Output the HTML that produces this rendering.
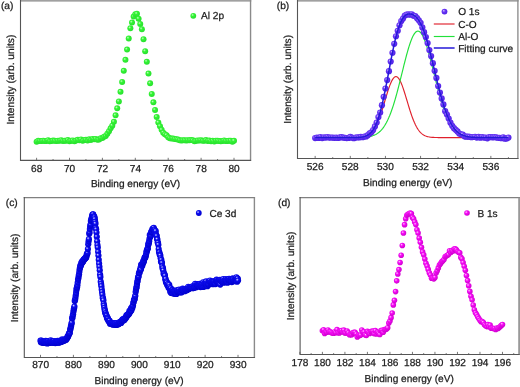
<!DOCTYPE html>
<html lang="en"><head><meta charset="utf-8"><title>XPS spectra</title>
<style>
html,body{margin:0;padding:0;background:#fff;}
body{width:520px;height:387px;overflow:hidden;}
svg{display:block;}
svg text{font-family:"Liberation Sans", Arial, sans-serif;fill:#1c1c1c;stroke:#1c1c1c;stroke-width:0.25px;text-rendering:geometricPrecision;}
</style></head><body>
<svg width="520" height="387" viewBox="0 0 520 387">
<rect width="520" height="387" fill="#fff"/>
<defs><radialGradient id="gG" cx="0.42" cy="0.40" r="0.62" fx="0.36" fy="0.34"><stop offset="0" stop-color="#c0ffc0"/><stop offset="0.38" stop-color="#34f434"/><stop offset="1" stop-color="#26de2e"/></radialGradient><radialGradient id="gP" cx="0.42" cy="0.40" r="0.62" fx="0.36" fy="0.34"><stop offset="0" stop-color="#d4c4ff"/><stop offset="0.38" stop-color="#6c38f6"/><stop offset="1" stop-color="#4c1ee4"/></radialGradient><radialGradient id="gB" cx="0.42" cy="0.40" r="0.62" fx="0.36" fy="0.34"><stop offset="0" stop-color="#d0d0ff"/><stop offset="0.38" stop-color="#0c0cf0"/><stop offset="1" stop-color="#0000cc"/></radialGradient><radialGradient id="gM" cx="0.42" cy="0.40" r="0.62" fx="0.36" fy="0.34"><stop offset="0" stop-color="#ffc4ff"/><stop offset="0.38" stop-color="#f60cf6"/><stop offset="1" stop-color="#cc00cc"/></radialGradient></defs>
<g fill="url(#gG)"><circle cx="36.6" cy="141.67" r="3.0"/><circle cx="38.24" cy="140.8" r="3.0"/><circle cx="39.89" cy="140.98" r="3.0"/><circle cx="41.53" cy="141.12" r="3.0"/><circle cx="43.18" cy="140.63" r="3.0"/><circle cx="44.82" cy="140.94" r="3.0"/><circle cx="46.47" cy="140.92" r="3.0"/><circle cx="48.11" cy="140.21" r="3.0"/><circle cx="49.76" cy="141.3" r="3.0"/><circle cx="51.4" cy="141.12" r="3.0"/><circle cx="53.05" cy="140.61" r="3.0"/><circle cx="54.69" cy="140.77" r="3.0"/><circle cx="56.34" cy="141.03" r="3.0"/><circle cx="57.98" cy="140.7" r="3.0"/><circle cx="59.63" cy="140.69" r="3.0"/><circle cx="61.27" cy="140.18" r="3.0"/><circle cx="62.92" cy="140.96" r="3.0"/><circle cx="64.56" cy="140.76" r="3.0"/><circle cx="66.21" cy="140.8" r="3.0"/><circle cx="67.85" cy="140.05" r="3.0"/><circle cx="69.5" cy="141.29" r="3.0"/><circle cx="71.14" cy="140.65" r="3.0"/><circle cx="72.79" cy="140.4" r="3.0"/><circle cx="74.43" cy="141.33" r="3.0"/><circle cx="76.08" cy="140.46" r="3.0"/><circle cx="77.72" cy="139.85" r="3.0"/><circle cx="79.37" cy="140.22" r="3.0"/><circle cx="81.01" cy="139.41" r="3.0"/><circle cx="82.66" cy="140.69" r="3.0"/><circle cx="84.3" cy="140.04" r="3.0"/><circle cx="85.95" cy="139.84" r="3.0"/><circle cx="87.59" cy="140.49" r="3.0"/><circle cx="89.24" cy="139.31" r="3.0"/><circle cx="90.88" cy="140.08" r="3.0"/><circle cx="92.53" cy="138.91" r="3.0"/><circle cx="94.17" cy="139.32" r="3.0"/><circle cx="95.82" cy="138.91" r="3.0"/><circle cx="97.46" cy="139.72" r="3.0"/><circle cx="99.11" cy="139.51" r="3.0"/><circle cx="100.75" cy="138.21" r="3.0"/><circle cx="102.4" cy="138.05" r="3.0"/><circle cx="104.04" cy="136.77" r="3.0"/><circle cx="105.69" cy="135.88" r="3.0"/><circle cx="107.33" cy="133.75" r="3.0"/><circle cx="108.98" cy="131.23" r="3.0"/><circle cx="110.62" cy="128.36" r="3.0"/><circle cx="112.27" cy="125.64" r="3.0"/><circle cx="113.91" cy="121.77" r="3.0"/><circle cx="115.56" cy="115.36" r="3.0"/><circle cx="117.2" cy="108.27" r="3.0"/><circle cx="118.85" cy="101.44" r="3.0"/><circle cx="120.49" cy="91.73" r="3.0"/><circle cx="122.14" cy="82.02" r="3.0"/><circle cx="123.78" cy="70.75" r="3.0"/><circle cx="125.43" cy="59.87" r="3.0"/><circle cx="127.07" cy="49.53" r="3.0"/><circle cx="128.72" cy="38.49" r="3.0"/><circle cx="130.36" cy="28.29" r="3.0"/><circle cx="132.01" cy="22.49" r="3.0"/><circle cx="133.65" cy="16.46" r="3.0"/><circle cx="135.3" cy="14.25" r="3.0"/><circle cx="136.94" cy="13.82" r="3.0"/><circle cx="138.59" cy="18.74" r="3.0"/><circle cx="140.23" cy="23.96" r="3.0"/><circle cx="141.88" cy="29.21" r="3.0"/><circle cx="143.52" cy="39.18" r="3.0"/><circle cx="145.17" cy="51.17" r="3.0"/><circle cx="146.81" cy="61.66" r="3.0"/><circle cx="148.46" cy="73.52" r="3.0"/><circle cx="150.1" cy="83.36" r="3.0"/><circle cx="151.75" cy="93.99" r="3.0"/><circle cx="153.39" cy="102.34" r="3.0"/><circle cx="155.04" cy="109.97" r="3.0"/><circle cx="156.68" cy="116.98" r="3.0"/><circle cx="158.33" cy="122.57" r="3.0"/><circle cx="159.97" cy="126.15" r="3.0"/><circle cx="161.62" cy="129.85" r="3.0"/><circle cx="163.26" cy="132.68" r="3.0"/><circle cx="164.91" cy="134.33" r="3.0"/><circle cx="166.55" cy="135.21" r="3.0"/><circle cx="168.2" cy="137.3" r="3.0"/><circle cx="169.84" cy="138.21" r="3.0"/><circle cx="171.49" cy="138.61" r="3.0"/><circle cx="173.13" cy="138.51" r="3.0"/><circle cx="174.78" cy="139.12" r="3.0"/><circle cx="176.42" cy="139.2" r="3.0"/><circle cx="178.07" cy="139.5" r="3.0"/><circle cx="179.71" cy="140.29" r="3.0"/><circle cx="181.36" cy="140.5" r="3.0"/><circle cx="183" cy="140.26" r="3.0"/><circle cx="184.65" cy="140.3" r="3.0"/><circle cx="186.29" cy="140.42" r="3.0"/><circle cx="187.94" cy="140.22" r="3.0"/><circle cx="189.58" cy="140.25" r="3.0"/><circle cx="191.23" cy="140.07" r="3.0"/><circle cx="192.87" cy="140.37" r="3.0"/><circle cx="194.52" cy="141.35" r="3.0"/><circle cx="196.16" cy="140.83" r="3.0"/><circle cx="197.81" cy="140.39" r="3.0"/><circle cx="199.45" cy="140.38" r="3.0"/><circle cx="201.1" cy="140.25" r="3.0"/><circle cx="202.74" cy="140.78" r="3.0"/><circle cx="204.39" cy="140.82" r="3.0"/><circle cx="206.03" cy="140.11" r="3.0"/><circle cx="207.68" cy="140.91" r="3.0"/><circle cx="209.32" cy="140.52" r="3.0"/><circle cx="210.97" cy="141.34" r="3.0"/><circle cx="212.61" cy="140.85" r="3.0"/><circle cx="214.26" cy="141.5" r="3.0"/><circle cx="215.9" cy="140.65" r="3.0"/><circle cx="217.55" cy="140.73" r="3.0"/><circle cx="219.19" cy="140.98" r="3.0"/><circle cx="220.84" cy="141.3" r="3.0"/><circle cx="222.48" cy="141.12" r="3.0"/><circle cx="224.13" cy="140.42" r="3.0"/><circle cx="225.77" cy="141" r="3.0"/><circle cx="227.42" cy="140.95" r="3.0"/><circle cx="229.06" cy="140.78" r="3.0"/><circle cx="230.71" cy="140.7" r="3.0"/><circle cx="232.35" cy="141.67" r="3.0"/><circle cx="234" cy="140.83" r="3.0"/></g>
<rect x="20" y="0" width="231.25" height="1.65" fill="#a0a0a0"/>
<path d="M250.55 0V160.9" fill="none" stroke="#8a8a8a" stroke-width="1.4"/>
<path d="M20.5 0V160.4H250.55" fill="none" stroke="#555555" stroke-width="1.1" stroke-linecap="square"/>
<path d="M36.6 160.4v-2.6M69.5 160.4v-2.6M102.4 160.4v-2.6M135.3 160.4v-2.6M168.2 160.4v-2.6M201.1 160.4v-2.6M234 160.4v-2.6M53.05 160.4v-1.4M85.95 160.4v-1.4M118.85 160.4v-1.4M151.75 160.4v-1.4M184.65 160.4v-1.4M217.55 160.4v-1.4" fill="none" stroke="#555555" stroke-width="0.8"/>
<text x="36.7" y="171.9" text-anchor="middle" font-size="10.1">68</text>
<text x="69.6" y="171.9" text-anchor="middle" font-size="10.1">70</text>
<text x="102.5" y="171.9" text-anchor="middle" font-size="10.1">72</text>
<text x="135.4" y="171.9" text-anchor="middle" font-size="10.1">74</text>
<text x="168.3" y="171.9" text-anchor="middle" font-size="10.1">76</text>
<text x="201.2" y="171.9" text-anchor="middle" font-size="10.1">78</text>
<text x="234.1" y="171.9" text-anchor="middle" font-size="10.1">80</text>
<text x="135.5" y="187.3" text-anchor="middle" font-size="10.1">Binding energy (eV)</text>
<text x="14" y="79.6" text-anchor="middle" font-size="10.25" transform="rotate(-90 14 79.6)">Intensity (arb. units)</text>
<text x="0.9" y="9" text-anchor="start" font-size="10.2">(a)</text>
<g fill="url(#gG)"><circle cx="193.3" cy="15.8" r="2.9"/></g>
<text x="201" y="19.3" text-anchor="start" font-size="10.1">Al 2p</text>
<path d="M315.15 137.6L316.03 137.6L316.91 137.6L317.79 137.6L318.66 137.6L319.54 137.6L320.42 137.6L321.3 137.6L322.18 137.6L323.06 137.6L323.93 137.6L324.81 137.6L325.69 137.6L326.57 137.6L327.45 137.6L328.33 137.6L329.21 137.6L330.08 137.6L330.96 137.6L331.84 137.6L332.72 137.6L333.6 137.6L334.48 137.6L335.36 137.6L336.23 137.6L337.11 137.6L337.99 137.6L338.87 137.6L339.75 137.6L340.63 137.6L341.5 137.6L342.38 137.6L343.26 137.6L344.14 137.6L345.02 137.6L345.9 137.6L346.78 137.6L347.65 137.6L348.53 137.59L349.41 137.59L350.29 137.59L351.17 137.58L352.05 137.58L352.93 137.57L353.8 137.56L354.68 137.55L355.56 137.53L356.44 137.5L357.32 137.47L358.2 137.43L359.07 137.38L359.95 137.31L360.83 137.22L361.71 137.12L362.59 136.98L363.47 136.81L364.35 136.61L365.22 136.36L366.1 136.05L366.98 135.69L367.86 135.25L368.74 134.73L369.62 134.11L370.5 133.39L371.37 132.56L372.25 131.59L373.13 130.49L374.01 129.24L374.89 127.83L375.77 126.25L376.64 124.51L377.52 122.59L378.4 120.5L379.28 118.24L380.16 115.83L381.04 113.26L381.92 110.57L382.79 107.77L383.67 104.89L384.55 101.96L385.43 99.01L386.31 96.08L387.19 93.21L388.07 90.45L388.94 87.83L389.82 85.4L390.7 83.2L391.58 81.26L392.46 79.63L393.34 78.32L394.21 77.37L395.09 76.79L395.97 76.6L396.85 76.79L397.73 77.37L398.61 78.32L399.49 79.63L400.36 81.26L401.24 83.2L402.12 85.4L403 87.83L403.88 90.45L404.76 93.21L405.64 96.08L406.51 99.01L407.39 101.96L408.27 104.89L409.15 107.77L410.03 110.57L410.91 113.26L411.78 115.83L412.66 118.24L413.54 120.5L414.42 122.59L415.3 124.51L416.18 126.25L417.06 127.83L417.93 129.24L418.81 130.49L419.69 131.59L420.57 132.56L421.45 133.39L422.33 134.11L423.21 134.73L424.08 135.25L424.96 135.69L425.84 136.05L426.72 136.36L427.6 136.61L428.48 136.81L429.35 136.98L430.23 137.12L431.11 137.22L431.99 137.31L432.87 137.38L433.75 137.43L434.63 137.47L435.5 137.5L436.38 137.53L437.26 137.55L438.14 137.56L439.02 137.57L439.9 137.58L440.78 137.58L441.65 137.59L442.53 137.59L443.41 137.59L444.29 137.6L445.17 137.6L446.05 137.6L446.92 137.6L447.8 137.6L448.68 137.6L449.56 137.6L450.44 137.6L451.32 137.6L452.2 137.6L453.07 137.6L453.95 137.6L454.83 137.6L455.71 137.6L456.59 137.6L457.47 137.6L458.35 137.6L459.22 137.6L460.1 137.6L460.98 137.6L461.86 137.6L462.74 137.6L463.62 137.6L464.49 137.6L465.37 137.6L466.25 137.6L467.13 137.6L468.01 137.6L468.89 137.6L469.77 137.6L470.64 137.6L471.52 137.6L472.4 137.6L473.28 137.6L474.16 137.6L475.04 137.6L475.92 137.6L476.79 137.6L477.67 137.6L478.55 137.6L479.43 137.6L480.31 137.6L481.19 137.6L482.06 137.6L482.94 137.6L483.82 137.6L484.7 137.6L485.58 137.6L486.46 137.6L487.34 137.6L488.21 137.6L489.09 137.6L489.97 137.6L490.85 137.6L491.73 137.6L492.61 137.6L493.49 137.6L494.36 137.6L495.24 137.6L496.12 137.6L497 137.6L497.88 137.6L498.76 137.6L499.63 137.6L500.51 137.6L501.39 137.6L502.27 137.6L503.15 137.6L504.03 137.6L504.91 137.6L505.78 137.6L506.66 137.6L507.54 137.6L508.42 137.6" fill="none" stroke="#e0202c" stroke-width="1.15" stroke-linejoin="round"/>
<path d="M315.15 137.6L316.03 137.6L316.91 137.6L317.79 137.6L318.66 137.6L319.54 137.6L320.42 137.6L321.3 137.6L322.18 137.6L323.06 137.6L323.93 137.6L324.81 137.6L325.69 137.6L326.57 137.6L327.45 137.6L328.33 137.6L329.21 137.6L330.08 137.6L330.96 137.6L331.84 137.6L332.72 137.6L333.6 137.6L334.48 137.6L335.36 137.6L336.23 137.6L337.11 137.6L337.99 137.6L338.87 137.6L339.75 137.6L340.63 137.6L341.5 137.6L342.38 137.6L343.26 137.6L344.14 137.6L345.02 137.6L345.9 137.6L346.78 137.6L347.65 137.59L348.53 137.59L349.41 137.59L350.29 137.59L351.17 137.58L352.05 137.58L352.93 137.57L353.8 137.57L354.68 137.56L355.56 137.55L356.44 137.54L357.32 137.52L358.2 137.51L359.07 137.49L359.95 137.46L360.83 137.43L361.71 137.39L362.59 137.35L363.47 137.29L364.35 137.23L365.22 137.16L366.1 137.07L366.98 136.97L367.86 136.84L368.74 136.7L369.62 136.54L370.5 136.34L371.37 136.12L372.25 135.87L373.13 135.57L374.01 135.23L374.89 134.85L375.77 134.41L376.64 133.92L377.52 133.35L378.4 132.72L379.28 132.02L380.16 131.22L381.04 130.34L381.92 129.37L382.79 128.29L383.67 127.09L384.55 125.79L385.43 124.36L386.31 122.8L387.19 121.11L388.07 119.28L388.94 117.32L389.82 115.21L390.7 112.95L391.58 110.55L392.46 108.01L393.34 105.33L394.21 102.51L395.09 99.56L395.97 96.49L396.85 93.3L397.73 90.01L398.61 86.64L399.49 83.19L400.36 79.68L401.24 76.14L402.12 72.58L403 69.02L403.88 65.48L404.76 62L405.64 58.58L406.51 55.27L407.39 52.07L408.27 49.02L409.15 46.14L410.03 43.46L410.91 40.99L411.78 38.76L412.66 36.78L413.54 35.08L414.42 33.66L415.3 32.55L416.18 31.75L417.06 31.26L417.93 31.1L418.81 31.26L419.69 31.75L420.57 32.55L421.45 33.66L422.33 35.08L423.21 36.78L424.08 38.76L424.96 40.99L425.84 43.46L426.72 46.14L427.6 49.02L428.48 52.07L429.35 55.27L430.23 58.58L431.11 62L431.99 65.48L432.87 69.02L433.75 72.58L434.63 76.14L435.5 79.68L436.38 83.19L437.26 86.64L438.14 90.01L439.02 93.3L439.9 96.49L440.78 99.56L441.65 102.51L442.53 105.33L443.41 108.01L444.29 110.55L445.17 112.95L446.05 115.21L446.92 117.32L447.8 119.28L448.68 121.11L449.56 122.8L450.44 124.36L451.32 125.79L452.2 127.09L453.07 128.29L453.95 129.37L454.83 130.34L455.71 131.22L456.59 132.02L457.47 132.72L458.35 133.35L459.22 133.92L460.1 134.41L460.98 134.85L461.86 135.23L462.74 135.57L463.62 135.87L464.49 136.12L465.37 136.34L466.25 136.54L467.13 136.7L468.01 136.84L468.89 136.97L469.77 137.07L470.64 137.16L471.52 137.23L472.4 137.29L473.28 137.35L474.16 137.39L475.04 137.43L475.92 137.46L476.79 137.49L477.67 137.51L478.55 137.52L479.43 137.54L480.31 137.55L481.19 137.56L482.06 137.57L482.94 137.57L483.82 137.58L484.7 137.58L485.58 137.59L486.46 137.59L487.34 137.59L488.21 137.59L489.09 137.6L489.97 137.6L490.85 137.6L491.73 137.6L492.61 137.6L493.49 137.6L494.36 137.6L495.24 137.6L496.12 137.6L497 137.6L497.88 137.6L498.76 137.6L499.63 137.6L500.51 137.6L501.39 137.6L502.27 137.6L503.15 137.6L504.03 137.6L504.91 137.6L505.78 137.6L506.66 137.6L507.54 137.6L508.42 137.6" fill="none" stroke="#22e03a" stroke-width="1.15" stroke-linejoin="round"/>
<g fill="url(#gP)"><circle cx="315.15" cy="138.11" r="3.1"/><circle cx="316.91" cy="137.61" r="3.1"/><circle cx="318.66" cy="137.89" r="3.1"/><circle cx="320.42" cy="137.13" r="3.1"/><circle cx="322.18" cy="138.12" r="3.1"/><circle cx="323.94" cy="137.36" r="3.1"/><circle cx="325.69" cy="137.56" r="3.1"/><circle cx="327.45" cy="137.04" r="3.1"/><circle cx="329.21" cy="137.53" r="3.1"/><circle cx="330.96" cy="137.51" r="3.1"/><circle cx="332.72" cy="137.53" r="3.1"/><circle cx="334.48" cy="137.78" r="3.1"/><circle cx="336.23" cy="137.62" r="3.1"/><circle cx="337.99" cy="137.99" r="3.1"/><circle cx="339.75" cy="137.41" r="3.1"/><circle cx="341.51" cy="137.2" r="3.1"/><circle cx="343.26" cy="137.59" r="3.1"/><circle cx="345.02" cy="137.85" r="3.1"/><circle cx="346.78" cy="138.09" r="3.1"/><circle cx="348.53" cy="137.92" r="3.1"/><circle cx="350.29" cy="136.88" r="3.1"/><circle cx="352.05" cy="137.72" r="3.1"/><circle cx="353.8" cy="138.13" r="3.1"/><circle cx="355.56" cy="137.53" r="3.1"/><circle cx="357.32" cy="137.23" r="3.1"/><circle cx="359.08" cy="137.45" r="3.1"/><circle cx="360.83" cy="136.96" r="3.1"/><circle cx="362.59" cy="137.15" r="3.1"/><circle cx="364.35" cy="136.48" r="3.1"/><circle cx="366.1" cy="136.44" r="3.1"/><circle cx="367.86" cy="135.2" r="3.1"/><circle cx="369.62" cy="133.46" r="3.1"/><circle cx="371.37" cy="132.27" r="3.1"/><circle cx="373.13" cy="130.08" r="3.1"/><circle cx="374.89" cy="126.43" r="3.1"/><circle cx="376.65" cy="122.6" r="3.1"/><circle cx="378.4" cy="117.04" r="3.1"/><circle cx="380.16" cy="112.52" r="3.1"/><circle cx="381.92" cy="105.14" r="3.1"/><circle cx="383.67" cy="96.83" r="3.1"/><circle cx="385.43" cy="88.49" r="3.1"/><circle cx="387.19" cy="80.07" r="3.1"/><circle cx="388.94" cy="71.13" r="3.1"/><circle cx="390.7" cy="61.48" r="3.1"/><circle cx="392.46" cy="52.73" r="3.1"/><circle cx="394.22" cy="43.78" r="3.1"/><circle cx="395.97" cy="36.24" r="3.1"/><circle cx="397.73" cy="30.75" r="3.1"/><circle cx="399.49" cy="25.35" r="3.1"/><circle cx="401.24" cy="21.05" r="3.1"/><circle cx="403" cy="18.55" r="3.1"/><circle cx="404.76" cy="15.57" r="3.1"/><circle cx="406.51" cy="14.49" r="3.1"/><circle cx="408.27" cy="14.42" r="3.1"/><circle cx="410.03" cy="14.62" r="3.1"/><circle cx="411.79" cy="14.24" r="3.1"/><circle cx="413.54" cy="15.69" r="3.1"/><circle cx="415.3" cy="16.03" r="3.1"/><circle cx="417.06" cy="18.19" r="3.1"/><circle cx="418.81" cy="20.37" r="3.1"/><circle cx="420.57" cy="22.87" r="3.1"/><circle cx="422.33" cy="27.4" r="3.1"/><circle cx="424.08" cy="32.21" r="3.1"/><circle cx="425.84" cy="37.05" r="3.1"/><circle cx="427.6" cy="43.02" r="3.1"/><circle cx="429.36" cy="50.12" r="3.1"/><circle cx="431.11" cy="56.01" r="3.1"/><circle cx="432.87" cy="63.14" r="3.1"/><circle cx="434.63" cy="70.84" r="3.1"/><circle cx="436.38" cy="77.95" r="3.1"/><circle cx="438.14" cy="86.1" r="3.1"/><circle cx="439.9" cy="92.51" r="3.1"/><circle cx="441.65" cy="98.43" r="3.1"/><circle cx="443.41" cy="104.43" r="3.1"/><circle cx="445.17" cy="111.15" r="3.1"/><circle cx="446.93" cy="114.51" r="3.1"/><circle cx="448.68" cy="118.61" r="3.1"/><circle cx="450.44" cy="122.63" r="3.1"/><circle cx="452.2" cy="125.81" r="3.1"/><circle cx="453.95" cy="128.19" r="3.1"/><circle cx="455.71" cy="129.84" r="3.1"/><circle cx="457.47" cy="131.44" r="3.1"/><circle cx="459.22" cy="133.51" r="3.1"/><circle cx="460.98" cy="134.33" r="3.1"/><circle cx="462.74" cy="134.53" r="3.1"/><circle cx="464.5" cy="136.3" r="3.1"/><circle cx="466.25" cy="136.63" r="3.1"/><circle cx="468.01" cy="136.59" r="3.1"/><circle cx="469.77" cy="136.85" r="3.1"/><circle cx="471.52" cy="137.24" r="3.1"/><circle cx="473.28" cy="137.01" r="3.1"/><circle cx="475.04" cy="136.85" r="3.1"/><circle cx="476.79" cy="137.59" r="3.1"/><circle cx="478.55" cy="136.93" r="3.1"/><circle cx="480.31" cy="137.69" r="3.1"/><circle cx="482.07" cy="136.98" r="3.1"/><circle cx="483.82" cy="137.53" r="3.1"/><circle cx="485.58" cy="137.53" r="3.1"/><circle cx="487.34" cy="138.3" r="3.1"/><circle cx="489.09" cy="137.17" r="3.1"/><circle cx="490.85" cy="137.03" r="3.1"/><circle cx="492.61" cy="137.34" r="3.1"/><circle cx="494.36" cy="137.15" r="3.1"/><circle cx="496.12" cy="137.36" r="3.1"/><circle cx="497.88" cy="137.77" r="3.1"/><circle cx="499.64" cy="137.91" r="3.1"/><circle cx="501.39" cy="138.26" r="3.1"/><circle cx="503.15" cy="137.31" r="3.1"/><circle cx="504.91" cy="138.66" r="3.1"/><circle cx="506.66" cy="138.39" r="3.1"/><circle cx="508.42" cy="137.52" r="3.1"/></g>
<path d="M315.15 137.6L316.03 137.6L316.91 137.6L317.79 137.6L318.66 137.6L319.54 137.6L320.42 137.6L321.3 137.6L322.18 137.6L323.06 137.6L323.93 137.6L324.81 137.6L325.69 137.6L326.57 137.6L327.45 137.6L328.33 137.6L329.21 137.6L330.08 137.6L330.96 137.6L331.84 137.6L332.72 137.6L333.6 137.6L334.48 137.6L335.36 137.6L336.23 137.6L337.11 137.6L337.99 137.6L338.87 137.6L339.75 137.6L340.63 137.6L341.5 137.6L342.38 137.6L343.26 137.6L344.14 137.6L345.02 137.6L345.9 137.6L346.78 137.59L347.65 137.59L348.53 137.59L349.41 137.59L350.29 137.58L351.17 137.58L352.05 137.57L352.93 137.56L353.8 137.54L354.68 137.53L355.56 137.5L356.44 137.48L357.32 137.44L358.2 137.39L359.07 137.33L359.95 137.26L360.83 137.16L361.71 137.04L362.59 136.89L363.47 136.71L364.35 136.49L365.22 136.21L366.1 135.88L366.98 135.48L367.86 135L368.74 134.43L369.62 133.75L370.5 132.96L371.37 132.03L372.25 130.95L373.13 129.7L374.01 128.28L374.89 126.66L375.77 124.83L376.64 122.77L377.52 120.49L378.4 117.96L379.28 115.19L380.16 112.16L381.04 108.89L381.92 105.38L382.79 101.63L383.67 97.67L384.55 93.52L385.43 89.2L386.31 84.73L387.19 80.16L388.07 75.51L388.94 70.83L389.82 66.15L390.7 61.52L391.58 56.97L392.46 52.55L393.34 48.28L394.21 44.22L395.09 40.37L395.97 36.77L396.85 33.44L397.73 30.39L398.61 27.63L399.49 25.15L400.36 22.97L401.24 21.06L402.12 19.42L403 18.03L403.88 16.88L404.76 15.95L405.64 15.21L406.51 14.65L407.39 14.26L408.27 14.01L409.15 13.89L410.03 13.89L410.91 14.01L411.78 14.23L412.66 14.57L413.54 15.02L414.42 15.59L415.3 16.28L416.18 17.1L417.06 18.06L417.93 19.17L418.81 20.44L419.69 21.88L420.57 23.5L421.45 25.3L422.33 27.29L423.21 29.47L424.08 31.83L424.96 34.38L425.84 37.11L426.72 40L427.6 43.05L428.48 46.24L429.35 49.56L430.23 52.99L431.11 56.51L431.99 60.1L432.87 63.74L433.75 67.42L434.63 71.1L435.5 74.78L436.38 78.43L437.26 82.03L438.14 85.56L439.02 89.02L439.9 92.38L440.78 95.64L441.65 98.78L442.53 101.79L443.41 104.67L444.29 107.41L445.17 110.01L446.05 112.46L446.92 114.76L447.8 116.91L448.68 118.92L449.56 120.78L450.44 122.5L451.32 124.09L452.2 125.55L453.07 126.88L453.95 128.1L454.83 129.2L455.71 130.2L456.59 131.1L457.47 131.9L458.35 132.63L459.22 133.27L460.1 133.84L460.98 134.35L461.86 134.79L462.74 135.19L463.62 135.53L464.49 135.83L465.37 136.09L466.25 136.32L467.13 136.52L468.01 136.68L468.89 136.83L469.77 136.95L470.64 137.06L471.52 137.15L472.4 137.22L473.28 137.29L474.16 137.34L475.04 137.39L475.92 137.43L476.79 137.46L477.67 137.48L478.55 137.5L479.43 137.52L480.31 137.54L481.19 137.55L482.06 137.56L482.94 137.57L483.82 137.57L484.7 137.58L485.58 137.58L486.46 137.59L487.34 137.59L488.21 137.59L489.09 137.59L489.97 137.6L490.85 137.6L491.73 137.6L492.61 137.6L493.49 137.6L494.36 137.6L495.24 137.6L496.12 137.6L497 137.6L497.88 137.6L498.76 137.6L499.63 137.6L500.51 137.6L501.39 137.6L502.27 137.6L503.15 137.6L504.03 137.6L504.91 137.6L505.78 137.6L506.66 137.6L507.54 137.6L508.42 137.6" fill="none" stroke="#2418d8" stroke-width="1.5" stroke-linejoin="round"/>
<rect x="297" y="0" width="221.6" height="1.65" fill="#a0a0a0"/>
<path d="M517.9 0V159" fill="none" stroke="#8c8c8c" stroke-width="1.35"/>
<path d="M297.5 0V158.5H517.9" fill="none" stroke="#555555" stroke-width="1.1" stroke-linecap="square"/>
<path d="M315.15 158.5v-2.6M350.29 158.5v-2.6M385.43 158.5v-2.6M420.57 158.5v-2.6M455.71 158.5v-2.6M490.85 158.5v-2.6M332.72 158.5v-1.4M367.86 158.5v-1.4M403 158.5v-1.4M438.14 158.5v-1.4M473.28 158.5v-1.4M508.42 158.5v-1.4" fill="none" stroke="#555555" stroke-width="0.8"/>
<text x="315.15" y="169.7" text-anchor="middle" font-size="10.1">526</text>
<text x="350.29" y="169.7" text-anchor="middle" font-size="10.1">528</text>
<text x="385.43" y="169.7" text-anchor="middle" font-size="10.1">530</text>
<text x="420.57" y="169.7" text-anchor="middle" font-size="10.1">532</text>
<text x="455.71" y="169.7" text-anchor="middle" font-size="10.1">534</text>
<text x="490.85" y="169.7" text-anchor="middle" font-size="10.1">536</text>
<text x="407.7" y="185.8" text-anchor="middle" font-size="10.1">Binding energy (eV)</text>
<text x="291.3" y="79.3" text-anchor="middle" font-size="10.1" transform="rotate(-90 291.3 79.3)">Intensity (arb. units)</text>
<text x="276.8" y="9" text-anchor="start" font-size="10.2">(b)</text>
<g fill="url(#gP)"><circle cx="444.5" cy="11.6" r="2.9"/></g>
<text x="458.2" y="15.3" text-anchor="start" font-size="10.1">O 1s</text>
<path d="M433.8 24L454.6 24" fill="none" stroke="#e0202c" stroke-width="1.15" stroke-linejoin="round"/>
<text x="458.2" y="27.6" text-anchor="start" font-size="10.1">C-O</text>
<path d="M433.8 36.5L454.6 36.5" fill="none" stroke="#22e03a" stroke-width="1.15" stroke-linejoin="round"/>
<text x="458.2" y="40.1" text-anchor="start" font-size="10.1">Al-O</text>
<path d="M433.8 48L454.6 48" fill="none" stroke="#2418d8" stroke-width="1.5" stroke-linejoin="round"/>
<text x="458.2" y="51.6" text-anchor="start" font-size="10.1">Fitting curve</text>
<g fill="url(#gB)"><circle cx="40.5" cy="340.57" r="3.1"/><circle cx="40.83" cy="342.03" r="3.1"/><circle cx="41.16" cy="342.15" r="3.1"/><circle cx="41.49" cy="340.63" r="3.1"/><circle cx="41.82" cy="342.19" r="3.1"/><circle cx="42.15" cy="342.03" r="3.1"/><circle cx="42.48" cy="341.66" r="3.1"/><circle cx="42.8" cy="342.59" r="3.1"/><circle cx="43.13" cy="342.85" r="3.1"/><circle cx="43.46" cy="341.9" r="3.1"/><circle cx="43.79" cy="342.37" r="3.1"/><circle cx="44.12" cy="341.81" r="3.1"/><circle cx="44.45" cy="341.73" r="3.1"/><circle cx="44.78" cy="342.3" r="3.1"/><circle cx="45.11" cy="342.6" r="3.1"/><circle cx="45.44" cy="341.9" r="3.1"/><circle cx="45.77" cy="340.83" r="3.1"/><circle cx="46.1" cy="342.66" r="3.1"/><circle cx="46.43" cy="341.24" r="3.1"/><circle cx="46.75" cy="342.37" r="3.1"/><circle cx="47.08" cy="343.45" r="3.1"/><circle cx="47.41" cy="342.28" r="3.1"/><circle cx="47.74" cy="341.52" r="3.1"/><circle cx="48.07" cy="341.35" r="3.1"/><circle cx="48.4" cy="343.06" r="3.1"/><circle cx="48.73" cy="342.29" r="3.1"/><circle cx="49.06" cy="342.65" r="3.1"/><circle cx="49.39" cy="342.9" r="3.1"/><circle cx="49.72" cy="342.27" r="3.1"/><circle cx="50.05" cy="342.1" r="3.1"/><circle cx="50.38" cy="341.68" r="3.1"/><circle cx="50.71" cy="340.29" r="3.1"/><circle cx="51.03" cy="341.3" r="3.1"/><circle cx="51.36" cy="342.23" r="3.1"/><circle cx="51.69" cy="342.16" r="3.1"/><circle cx="52.02" cy="342.52" r="3.1"/><circle cx="52.35" cy="342.16" r="3.1"/><circle cx="52.68" cy="342.33" r="3.1"/><circle cx="53.01" cy="342.72" r="3.1"/><circle cx="53.34" cy="341.61" r="3.1"/><circle cx="53.67" cy="341.98" r="3.1"/><circle cx="54" cy="341.1" r="3.1"/><circle cx="54.33" cy="342.76" r="3.1"/><circle cx="54.66" cy="342.12" r="3.1"/><circle cx="54.98" cy="342.39" r="3.1"/><circle cx="55.31" cy="343.05" r="3.1"/><circle cx="55.64" cy="342.72" r="3.1"/><circle cx="55.97" cy="341.95" r="3.1"/><circle cx="56.3" cy="342.47" r="3.1"/><circle cx="56.63" cy="341" r="3.1"/><circle cx="56.96" cy="342.18" r="3.1"/><circle cx="57.29" cy="341.96" r="3.1"/><circle cx="57.62" cy="340.78" r="3.1"/><circle cx="57.95" cy="342.67" r="3.1"/><circle cx="58.28" cy="341.32" r="3.1"/><circle cx="58.61" cy="342.18" r="3.1"/><circle cx="58.94" cy="341.43" r="3.1"/><circle cx="59.26" cy="342.31" r="3.1"/><circle cx="59.59" cy="342.48" r="3.1"/><circle cx="59.92" cy="341.04" r="3.1"/><circle cx="60.25" cy="340.54" r="3.1"/><circle cx="60.58" cy="341.4" r="3.1"/><circle cx="60.91" cy="341.98" r="3.1"/><circle cx="61.24" cy="341.13" r="3.1"/><circle cx="61.57" cy="340.91" r="3.1"/><circle cx="61.9" cy="341.56" r="3.1"/><circle cx="62.23" cy="339.38" r="3.1"/><circle cx="62.56" cy="340.66" r="3.1"/><circle cx="62.89" cy="340.11" r="3.1"/><circle cx="63.21" cy="341.11" r="3.1"/><circle cx="63.54" cy="340.34" r="3.1"/><circle cx="63.87" cy="339.99" r="3.1"/><circle cx="64.2" cy="340.38" r="3.1"/><circle cx="64.53" cy="339.53" r="3.1"/><circle cx="64.86" cy="340.31" r="3.1"/><circle cx="65.19" cy="339.65" r="3.1"/><circle cx="65.52" cy="339.56" r="3.1"/><circle cx="65.85" cy="338.99" r="3.1"/><circle cx="66.18" cy="339.66" r="3.1"/><circle cx="66.51" cy="338.56" r="3.1"/><circle cx="66.84" cy="338.51" r="3.1"/><circle cx="67.17" cy="337.99" r="3.1"/><circle cx="67.49" cy="336.64" r="3.1"/><circle cx="67.82" cy="336.99" r="3.1"/><circle cx="68.15" cy="336.21" r="3.1"/><circle cx="68.48" cy="335.46" r="3.1"/><circle cx="68.81" cy="334.18" r="3.1"/><circle cx="69.14" cy="333.26" r="3.1"/><circle cx="69.47" cy="333.07" r="3.1"/><circle cx="69.8" cy="332.92" r="3.1"/><circle cx="70.13" cy="329.72" r="3.1"/><circle cx="70.46" cy="329.11" r="3.1"/><circle cx="70.79" cy="326.89" r="3.1"/><circle cx="71.12" cy="325.94" r="3.1"/><circle cx="71.44" cy="324.02" r="3.1"/><circle cx="71.77" cy="322.67" r="3.1"/><circle cx="72.1" cy="318.36" r="3.1"/><circle cx="72.43" cy="317.9" r="3.1"/><circle cx="72.76" cy="315.71" r="3.1"/><circle cx="73.09" cy="314.28" r="3.1"/><circle cx="73.42" cy="311.8" r="3.1"/><circle cx="73.75" cy="309.65" r="3.1"/><circle cx="74.08" cy="308.17" r="3.1"/><circle cx="74.41" cy="306.53" r="3.1"/><circle cx="74.74" cy="300.97" r="3.1"/><circle cx="75.07" cy="300.12" r="3.1"/><circle cx="75.4" cy="298.08" r="3.1"/><circle cx="75.72" cy="295.53" r="3.1"/><circle cx="76.05" cy="293.04" r="3.1"/><circle cx="76.38" cy="290.17" r="3.1"/><circle cx="76.71" cy="288.25" r="3.1"/><circle cx="77.04" cy="287.17" r="3.1"/><circle cx="77.37" cy="285.27" r="3.1"/><circle cx="77.7" cy="282.52" r="3.1"/><circle cx="78.03" cy="279.82" r="3.1"/><circle cx="78.36" cy="278.35" r="3.1"/><circle cx="78.69" cy="276.03" r="3.1"/><circle cx="79.02" cy="274.29" r="3.1"/><circle cx="79.35" cy="271.75" r="3.1"/><circle cx="79.67" cy="269.15" r="3.1"/><circle cx="80" cy="267.86" r="3.1"/><circle cx="80.33" cy="265.62" r="3.1"/><circle cx="80.66" cy="265.89" r="3.1"/><circle cx="80.99" cy="265.22" r="3.1"/><circle cx="81.32" cy="262.89" r="3.1"/><circle cx="81.65" cy="263.24" r="3.1"/><circle cx="81.98" cy="261.7" r="3.1"/><circle cx="82.31" cy="262.48" r="3.1"/><circle cx="82.64" cy="261.88" r="3.1"/><circle cx="82.97" cy="260.72" r="3.1"/><circle cx="83.3" cy="261.14" r="3.1"/><circle cx="83.63" cy="259.88" r="3.1"/><circle cx="83.95" cy="259.42" r="3.1"/><circle cx="84.28" cy="259.15" r="3.1"/><circle cx="84.61" cy="259.08" r="3.1"/><circle cx="84.94" cy="258.57" r="3.1"/><circle cx="85.27" cy="258.43" r="3.1"/><circle cx="85.6" cy="257.4" r="3.1"/><circle cx="85.93" cy="257.7" r="3.1"/><circle cx="86.26" cy="257.19" r="3.1"/><circle cx="86.59" cy="255.41" r="3.1"/><circle cx="86.92" cy="253.85" r="3.1"/><circle cx="87.25" cy="254.06" r="3.1"/><circle cx="87.58" cy="252.83" r="3.1"/><circle cx="87.9" cy="249.03" r="3.1"/><circle cx="88.23" cy="244.33" r="3.1"/><circle cx="88.56" cy="241.54" r="3.1"/><circle cx="88.89" cy="239.17" r="3.1"/><circle cx="89.22" cy="233.84" r="3.1"/><circle cx="89.55" cy="232.38" r="3.1"/><circle cx="89.88" cy="229.06" r="3.1"/><circle cx="90.21" cy="226.18" r="3.1"/><circle cx="90.54" cy="224.62" r="3.1"/><circle cx="90.87" cy="221.05" r="3.1"/><circle cx="91.2" cy="219.97" r="3.1"/><circle cx="91.53" cy="219.02" r="3.1"/><circle cx="91.86" cy="217.31" r="3.1"/><circle cx="92.18" cy="215.84" r="3.1"/><circle cx="92.51" cy="214.64" r="3.1"/><circle cx="92.84" cy="214.61" r="3.1"/><circle cx="93.17" cy="214.26" r="3.1"/><circle cx="93.5" cy="216.86" r="3.1"/><circle cx="93.83" cy="216.28" r="3.1"/><circle cx="94.16" cy="216.56" r="3.1"/><circle cx="94.49" cy="217.38" r="3.1"/><circle cx="94.82" cy="219.17" r="3.1"/><circle cx="95.15" cy="221.8" r="3.1"/><circle cx="95.48" cy="223.64" r="3.1"/><circle cx="95.81" cy="228.13" r="3.1"/><circle cx="96.13" cy="229.36" r="3.1"/><circle cx="96.46" cy="232.56" r="3.1"/><circle cx="96.79" cy="236.79" r="3.1"/><circle cx="97.12" cy="241.25" r="3.1"/><circle cx="97.45" cy="244.99" r="3.1"/><circle cx="97.78" cy="247.61" r="3.1"/><circle cx="98.11" cy="251.8" r="3.1"/><circle cx="98.44" cy="255.58" r="3.1"/><circle cx="98.77" cy="259.81" r="3.1"/><circle cx="99.1" cy="263.62" r="3.1"/><circle cx="99.43" cy="266.75" r="3.1"/><circle cx="99.76" cy="270.24" r="3.1"/><circle cx="100.09" cy="274.56" r="3.1"/><circle cx="100.41" cy="276.92" r="3.1"/><circle cx="100.74" cy="281.72" r="3.1"/><circle cx="101.07" cy="283.91" r="3.1"/><circle cx="101.4" cy="286.16" r="3.1"/><circle cx="101.73" cy="289.42" r="3.1"/><circle cx="102.06" cy="291.97" r="3.1"/><circle cx="102.39" cy="294.71" r="3.1"/><circle cx="102.72" cy="297.74" r="3.1"/><circle cx="103.05" cy="298.43" r="3.1"/><circle cx="103.38" cy="300.37" r="3.1"/><circle cx="103.71" cy="303.97" r="3.1"/><circle cx="104.04" cy="305.71" r="3.1"/><circle cx="104.36" cy="307.9" r="3.1"/><circle cx="104.69" cy="309.9" r="3.1"/><circle cx="105.02" cy="311.14" r="3.1"/><circle cx="105.35" cy="313.23" r="3.1"/><circle cx="105.68" cy="313.34" r="3.1"/><circle cx="106.01" cy="314.97" r="3.1"/><circle cx="106.34" cy="315.32" r="3.1"/><circle cx="106.67" cy="316" r="3.1"/><circle cx="107" cy="317.95" r="3.1"/><circle cx="107.33" cy="318.68" r="3.1"/><circle cx="107.66" cy="317.73" r="3.1"/><circle cx="107.99" cy="318.89" r="3.1"/><circle cx="108.32" cy="320.36" r="3.1"/><circle cx="108.64" cy="321.35" r="3.1"/><circle cx="108.97" cy="320.63" r="3.1"/><circle cx="109.3" cy="321.28" r="3.1"/><circle cx="109.63" cy="320.8" r="3.1"/><circle cx="109.96" cy="323.65" r="3.1"/><circle cx="110.29" cy="322.63" r="3.1"/><circle cx="110.62" cy="323.18" r="3.1"/><circle cx="110.95" cy="323.28" r="3.1"/><circle cx="111.28" cy="323.7" r="3.1"/><circle cx="111.61" cy="323.69" r="3.1"/><circle cx="111.94" cy="323.26" r="3.1"/><circle cx="112.27" cy="324.1" r="3.1"/><circle cx="112.59" cy="323.77" r="3.1"/><circle cx="112.92" cy="324.63" r="3.1"/><circle cx="113.25" cy="323.32" r="3.1"/><circle cx="113.58" cy="323.45" r="3.1"/><circle cx="113.91" cy="324.22" r="3.1"/><circle cx="114.24" cy="324.61" r="3.1"/><circle cx="114.57" cy="323.86" r="3.1"/><circle cx="114.9" cy="323.29" r="3.1"/><circle cx="115.23" cy="323.65" r="3.1"/><circle cx="115.56" cy="323.39" r="3.1"/><circle cx="115.89" cy="324.92" r="3.1"/><circle cx="116.22" cy="324.24" r="3.1"/><circle cx="116.55" cy="324.45" r="3.1"/><circle cx="116.87" cy="323.79" r="3.1"/><circle cx="117.2" cy="323.2" r="3.1"/><circle cx="117.53" cy="324.28" r="3.1"/><circle cx="117.86" cy="324.55" r="3.1"/><circle cx="118.19" cy="323.78" r="3.1"/><circle cx="118.52" cy="323.29" r="3.1"/><circle cx="118.85" cy="323.88" r="3.1"/><circle cx="119.18" cy="322.78" r="3.1"/><circle cx="119.51" cy="323.35" r="3.1"/><circle cx="119.84" cy="322.2" r="3.1"/><circle cx="120.17" cy="321.82" r="3.1"/><circle cx="120.5" cy="322.59" r="3.1"/><circle cx="120.82" cy="322.21" r="3.1"/><circle cx="121.15" cy="322.98" r="3.1"/><circle cx="121.48" cy="321.31" r="3.1"/><circle cx="121.81" cy="321.25" r="3.1"/><circle cx="122.14" cy="320.24" r="3.1"/><circle cx="122.47" cy="319.51" r="3.1"/><circle cx="122.8" cy="319.3" r="3.1"/><circle cx="123.13" cy="320.46" r="3.1"/><circle cx="123.46" cy="319.07" r="3.1"/><circle cx="123.79" cy="320.23" r="3.1"/><circle cx="124.12" cy="320.06" r="3.1"/><circle cx="124.45" cy="318.57" r="3.1"/><circle cx="124.78" cy="319.45" r="3.1"/><circle cx="125.1" cy="318.12" r="3.1"/><circle cx="125.43" cy="318.3" r="3.1"/><circle cx="125.76" cy="317.01" r="3.1"/><circle cx="126.09" cy="317.71" r="3.1"/><circle cx="126.42" cy="315.41" r="3.1"/><circle cx="126.75" cy="316.57" r="3.1"/><circle cx="127.08" cy="315.09" r="3.1"/><circle cx="127.41" cy="315.01" r="3.1"/><circle cx="127.74" cy="315.36" r="3.1"/><circle cx="128.07" cy="314.47" r="3.1"/><circle cx="128.4" cy="313.79" r="3.1"/><circle cx="128.73" cy="314.14" r="3.1"/><circle cx="129.05" cy="313.75" r="3.1"/><circle cx="129.38" cy="311.08" r="3.1"/><circle cx="129.71" cy="312.52" r="3.1"/><circle cx="130.04" cy="312.1" r="3.1"/><circle cx="130.37" cy="310.14" r="3.1"/><circle cx="130.7" cy="310.71" r="3.1"/><circle cx="131.03" cy="308.41" r="3.1"/><circle cx="131.36" cy="310.55" r="3.1"/><circle cx="131.69" cy="308.2" r="3.1"/><circle cx="132.02" cy="307.63" r="3.1"/><circle cx="132.35" cy="308.1" r="3.1"/><circle cx="132.68" cy="305.87" r="3.1"/><circle cx="133.01" cy="305.58" r="3.1"/><circle cx="133.33" cy="302.79" r="3.1"/><circle cx="133.66" cy="302" r="3.1"/><circle cx="133.99" cy="299.8" r="3.1"/><circle cx="134.32" cy="299.53" r="3.1"/><circle cx="134.65" cy="299.23" r="3.1"/><circle cx="134.98" cy="296.83" r="3.1"/><circle cx="135.31" cy="295.84" r="3.1"/><circle cx="135.64" cy="292.06" r="3.1"/><circle cx="135.97" cy="290.06" r="3.1"/><circle cx="136.3" cy="288.18" r="3.1"/><circle cx="136.63" cy="286.89" r="3.1"/><circle cx="136.96" cy="284.43" r="3.1"/><circle cx="137.28" cy="282.02" r="3.1"/><circle cx="137.61" cy="280.88" r="3.1"/><circle cx="137.94" cy="278.39" r="3.1"/><circle cx="138.27" cy="276.86" r="3.1"/><circle cx="138.6" cy="276.6" r="3.1"/><circle cx="138.93" cy="273.23" r="3.1"/><circle cx="139.26" cy="272.63" r="3.1"/><circle cx="139.59" cy="272.82" r="3.1"/><circle cx="139.92" cy="270.23" r="3.1"/><circle cx="140.25" cy="269.87" r="3.1"/><circle cx="140.58" cy="267.69" r="3.1"/><circle cx="140.91" cy="269.44" r="3.1"/><circle cx="141.24" cy="264.48" r="3.1"/><circle cx="141.56" cy="264.85" r="3.1"/><circle cx="141.89" cy="264.19" r="3.1"/><circle cx="142.22" cy="266.12" r="3.1"/><circle cx="142.55" cy="264.17" r="3.1"/><circle cx="142.88" cy="262.89" r="3.1"/><circle cx="143.21" cy="261.22" r="3.1"/><circle cx="143.54" cy="262.19" r="3.1"/><circle cx="143.87" cy="261.22" r="3.1"/><circle cx="144.2" cy="259.61" r="3.1"/><circle cx="144.53" cy="257.94" r="3.1"/><circle cx="144.86" cy="257.39" r="3.1"/><circle cx="145.19" cy="257.72" r="3.1"/><circle cx="145.51" cy="256.77" r="3.1"/><circle cx="145.84" cy="255.44" r="3.1"/><circle cx="146.17" cy="254.07" r="3.1"/><circle cx="146.5" cy="251.27" r="3.1"/><circle cx="146.83" cy="251.86" r="3.1"/><circle cx="147.16" cy="249.52" r="3.1"/><circle cx="147.49" cy="249.24" r="3.1"/><circle cx="147.82" cy="248.13" r="3.1"/><circle cx="148.15" cy="245.35" r="3.1"/><circle cx="148.48" cy="243.3" r="3.1"/><circle cx="148.81" cy="243.6" r="3.1"/><circle cx="149.14" cy="241.3" r="3.1"/><circle cx="149.47" cy="238.75" r="3.1"/><circle cx="149.79" cy="234.97" r="3.1"/><circle cx="150.12" cy="236.71" r="3.1"/><circle cx="150.45" cy="236.21" r="3.1"/><circle cx="150.78" cy="235.55" r="3.1"/><circle cx="151.11" cy="232.65" r="3.1"/><circle cx="151.44" cy="231.69" r="3.1"/><circle cx="151.77" cy="231.02" r="3.1"/><circle cx="152.1" cy="231.6" r="3.1"/><circle cx="152.43" cy="229.09" r="3.1"/><circle cx="152.76" cy="229.76" r="3.1"/><circle cx="153.09" cy="228.61" r="3.1"/><circle cx="153.42" cy="229.6" r="3.1"/><circle cx="153.74" cy="227.77" r="3.1"/><circle cx="154.07" cy="229.95" r="3.1"/><circle cx="154.4" cy="229.5" r="3.1"/><circle cx="154.73" cy="230.27" r="3.1"/><circle cx="155.06" cy="231.59" r="3.1"/><circle cx="155.39" cy="232.97" r="3.1"/><circle cx="155.72" cy="231.06" r="3.1"/><circle cx="156.05" cy="234.83" r="3.1"/><circle cx="156.38" cy="235.58" r="3.1"/><circle cx="156.71" cy="236.01" r="3.1"/><circle cx="157.04" cy="239.06" r="3.1"/><circle cx="157.37" cy="239.47" r="3.1"/><circle cx="157.7" cy="242.54" r="3.1"/><circle cx="158.02" cy="242.82" r="3.1"/><circle cx="158.35" cy="244.79" r="3.1"/><circle cx="158.68" cy="249.09" r="3.1"/><circle cx="159.01" cy="252.06" r="3.1"/><circle cx="159.34" cy="252.36" r="3.1"/><circle cx="159.67" cy="254.39" r="3.1"/><circle cx="160" cy="254.76" r="3.1"/><circle cx="160.33" cy="255.61" r="3.1"/><circle cx="160.66" cy="258.36" r="3.1"/><circle cx="160.99" cy="261.71" r="3.1"/><circle cx="161.32" cy="259.94" r="3.1"/><circle cx="161.65" cy="262.86" r="3.1"/><circle cx="161.97" cy="262.96" r="3.1"/><circle cx="162.3" cy="266.48" r="3.1"/><circle cx="162.63" cy="268.75" r="3.1"/><circle cx="162.96" cy="268.15" r="3.1"/><circle cx="163.29" cy="270.49" r="3.1"/><circle cx="163.62" cy="273.7" r="3.1"/><circle cx="163.95" cy="273.72" r="3.1"/><circle cx="164.28" cy="273.95" r="3.1"/><circle cx="164.61" cy="275.17" r="3.1"/><circle cx="164.94" cy="275.68" r="3.1"/><circle cx="165.27" cy="279.57" r="3.1"/><circle cx="165.6" cy="278.84" r="3.1"/><circle cx="165.93" cy="282" r="3.1"/><circle cx="166.25" cy="282.64" r="3.1"/><circle cx="166.58" cy="281.56" r="3.1"/><circle cx="166.91" cy="282.52" r="3.1"/><circle cx="167.24" cy="284.9" r="3.1"/><circle cx="167.57" cy="284.83" r="3.1"/><circle cx="167.9" cy="285.65" r="3.1"/><circle cx="168.23" cy="283.89" r="3.1"/><circle cx="168.56" cy="287.67" r="3.1"/><circle cx="168.89" cy="286.01" r="3.1"/><circle cx="169.22" cy="284.79" r="3.1"/><circle cx="169.55" cy="287.36" r="3.1"/><circle cx="169.88" cy="289.16" r="3.1"/><circle cx="170.2" cy="291.74" r="3.1"/><circle cx="170.53" cy="289.1" r="3.1"/><circle cx="170.86" cy="288.32" r="3.1"/><circle cx="171.19" cy="293.01" r="3.1"/><circle cx="171.52" cy="290.87" r="3.1"/><circle cx="171.85" cy="290.59" r="3.1"/><circle cx="172.18" cy="289.75" r="3.1"/><circle cx="172.51" cy="290.01" r="3.1"/><circle cx="172.84" cy="293.27" r="3.1"/><circle cx="173.17" cy="291.23" r="3.1"/><circle cx="173.5" cy="291.02" r="3.1"/><circle cx="173.83" cy="291.17" r="3.1"/><circle cx="174.16" cy="293.86" r="3.1"/><circle cx="174.48" cy="291.22" r="3.1"/><circle cx="174.81" cy="292.78" r="3.1"/><circle cx="175.14" cy="292.33" r="3.1"/><circle cx="175.47" cy="292.29" r="3.1"/><circle cx="175.8" cy="290.87" r="3.1"/><circle cx="176.13" cy="292.76" r="3.1"/><circle cx="176.46" cy="293.92" r="3.1"/><circle cx="176.79" cy="291.8" r="3.1"/><circle cx="177.12" cy="290.67" r="3.1"/><circle cx="177.45" cy="290.16" r="3.1"/><circle cx="177.78" cy="291.97" r="3.1"/><circle cx="178.11" cy="291.35" r="3.1"/><circle cx="178.43" cy="291.5" r="3.1"/><circle cx="178.76" cy="291.59" r="3.1"/><circle cx="179.09" cy="289.66" r="3.1"/><circle cx="179.42" cy="292.41" r="3.1"/><circle cx="179.75" cy="291.65" r="3.1"/><circle cx="180.08" cy="291.18" r="3.1"/><circle cx="180.41" cy="291.48" r="3.1"/><circle cx="180.74" cy="292.25" r="3.1"/><circle cx="181.07" cy="291.07" r="3.1"/><circle cx="181.4" cy="289.85" r="3.1"/><circle cx="181.73" cy="292.28" r="3.1"/><circle cx="182.06" cy="290.18" r="3.1"/><circle cx="182.39" cy="289.73" r="3.1"/><circle cx="182.71" cy="288.59" r="3.1"/><circle cx="183.04" cy="290.45" r="3.1"/><circle cx="183.37" cy="289.04" r="3.1"/><circle cx="183.7" cy="289.59" r="3.1"/><circle cx="184.03" cy="290.7" r="3.1"/><circle cx="184.36" cy="290.07" r="3.1"/><circle cx="184.69" cy="291.19" r="3.1"/><circle cx="185.02" cy="290.19" r="3.1"/><circle cx="185.35" cy="289.19" r="3.1"/><circle cx="185.68" cy="289.17" r="3.1"/><circle cx="186.01" cy="288.83" r="3.1"/><circle cx="186.34" cy="290.16" r="3.1"/><circle cx="186.66" cy="289.26" r="3.1"/><circle cx="186.99" cy="288.6" r="3.1"/><circle cx="187.32" cy="290.05" r="3.1"/><circle cx="187.65" cy="289" r="3.1"/><circle cx="187.98" cy="288.17" r="3.1"/><circle cx="188.31" cy="286.75" r="3.1"/><circle cx="188.64" cy="289.07" r="3.1"/><circle cx="188.97" cy="288.7" r="3.1"/><circle cx="189.3" cy="288.35" r="3.1"/><circle cx="189.63" cy="287.63" r="3.1"/><circle cx="189.96" cy="287.02" r="3.1"/><circle cx="190.29" cy="287.67" r="3.1"/><circle cx="190.62" cy="288.14" r="3.1"/><circle cx="190.94" cy="287.58" r="3.1"/><circle cx="191.27" cy="287.46" r="3.1"/><circle cx="191.6" cy="286.95" r="3.1"/><circle cx="191.93" cy="287.86" r="3.1"/><circle cx="192.26" cy="287.63" r="3.1"/><circle cx="192.59" cy="286.3" r="3.1"/><circle cx="192.92" cy="288.09" r="3.1"/><circle cx="193.25" cy="288.03" r="3.1"/><circle cx="193.58" cy="287.96" r="3.1"/><circle cx="193.91" cy="286.68" r="3.1"/><circle cx="194.24" cy="286.51" r="3.1"/><circle cx="194.57" cy="285.21" r="3.1"/><circle cx="194.89" cy="287.5" r="3.1"/><circle cx="195.22" cy="283.8" r="3.1"/><circle cx="195.55" cy="285.88" r="3.1"/><circle cx="195.88" cy="285.85" r="3.1"/><circle cx="196.21" cy="287.26" r="3.1"/><circle cx="196.54" cy="286.09" r="3.1"/><circle cx="196.87" cy="284.8" r="3.1"/><circle cx="197.2" cy="284.13" r="3.1"/><circle cx="197.53" cy="284.91" r="3.1"/><circle cx="197.86" cy="285.87" r="3.1"/><circle cx="198.19" cy="285.72" r="3.1"/><circle cx="198.52" cy="285.32" r="3.1"/><circle cx="198.85" cy="284.62" r="3.1"/><circle cx="199.17" cy="285.13" r="3.1"/><circle cx="199.5" cy="286.56" r="3.1"/><circle cx="199.83" cy="283.86" r="3.1"/><circle cx="200.16" cy="285.19" r="3.1"/><circle cx="200.49" cy="287.1" r="3.1"/><circle cx="200.82" cy="285.69" r="3.1"/><circle cx="201.15" cy="284.35" r="3.1"/><circle cx="201.48" cy="285.67" r="3.1"/><circle cx="201.81" cy="283.83" r="3.1"/><circle cx="202.14" cy="284.7" r="3.1"/><circle cx="202.47" cy="286.56" r="3.1"/><circle cx="202.8" cy="286.91" r="3.1"/><circle cx="203.12" cy="282.34" r="3.1"/><circle cx="203.45" cy="285.27" r="3.1"/><circle cx="203.78" cy="286.76" r="3.1"/><circle cx="204.11" cy="283.57" r="3.1"/><circle cx="204.44" cy="284.51" r="3.1"/><circle cx="204.77" cy="286" r="3.1"/><circle cx="205.1" cy="283.43" r="3.1"/><circle cx="205.43" cy="284.54" r="3.1"/><circle cx="205.76" cy="283.83" r="3.1"/><circle cx="206.09" cy="281.43" r="3.1"/><circle cx="206.42" cy="284.2" r="3.1"/><circle cx="206.75" cy="283.47" r="3.1"/><circle cx="207.08" cy="284.79" r="3.1"/><circle cx="207.4" cy="286.18" r="3.1"/><circle cx="207.73" cy="284.35" r="3.1"/><circle cx="208.06" cy="282.98" r="3.1"/><circle cx="208.39" cy="283.93" r="3.1"/><circle cx="208.72" cy="283.56" r="3.1"/><circle cx="209.05" cy="284.52" r="3.1"/><circle cx="209.38" cy="281.38" r="3.1"/><circle cx="209.71" cy="281.66" r="3.1"/><circle cx="210.04" cy="280.5" r="3.1"/><circle cx="210.37" cy="283.75" r="3.1"/><circle cx="210.7" cy="282.9" r="3.1"/><circle cx="211.03" cy="282.07" r="3.1"/><circle cx="211.35" cy="281.9" r="3.1"/><circle cx="211.68" cy="282.03" r="3.1"/><circle cx="212.01" cy="281.53" r="3.1"/><circle cx="212.34" cy="282.23" r="3.1"/><circle cx="212.67" cy="281.95" r="3.1"/><circle cx="213" cy="284.25" r="3.1"/><circle cx="213.33" cy="282.86" r="3.1"/><circle cx="213.66" cy="281.37" r="3.1"/><circle cx="213.99" cy="281.61" r="3.1"/><circle cx="214.32" cy="283.78" r="3.1"/><circle cx="214.65" cy="282.79" r="3.1"/><circle cx="214.98" cy="282.54" r="3.1"/><circle cx="215.31" cy="283.02" r="3.1"/><circle cx="215.63" cy="284.04" r="3.1"/><circle cx="215.96" cy="280.48" r="3.1"/><circle cx="216.29" cy="281.02" r="3.1"/><circle cx="216.62" cy="279.72" r="3.1"/><circle cx="216.95" cy="282.46" r="3.1"/><circle cx="217.28" cy="281.32" r="3.1"/><circle cx="217.61" cy="280.9" r="3.1"/><circle cx="217.94" cy="280.74" r="3.1"/><circle cx="218.27" cy="282.5" r="3.1"/><circle cx="218.6" cy="281.41" r="3.1"/><circle cx="218.93" cy="280.87" r="3.1"/><circle cx="219.26" cy="283.05" r="3.1"/><circle cx="219.58" cy="280.13" r="3.1"/><circle cx="219.91" cy="279.8" r="3.1"/><circle cx="220.24" cy="284.58" r="3.1"/><circle cx="220.57" cy="280.83" r="3.1"/><circle cx="220.9" cy="280.56" r="3.1"/><circle cx="221.23" cy="280.28" r="3.1"/><circle cx="221.56" cy="280.97" r="3.1"/><circle cx="221.89" cy="282.07" r="3.1"/><circle cx="222.22" cy="281.99" r="3.1"/><circle cx="222.55" cy="281.68" r="3.1"/><circle cx="222.88" cy="280.61" r="3.1"/><circle cx="223.21" cy="279.05" r="3.1"/><circle cx="223.54" cy="281.22" r="3.1"/><circle cx="223.86" cy="282.72" r="3.1"/><circle cx="224.19" cy="282.11" r="3.1"/><circle cx="224.52" cy="280.52" r="3.1"/><circle cx="224.85" cy="281.69" r="3.1"/><circle cx="225.18" cy="280.16" r="3.1"/><circle cx="225.51" cy="280.54" r="3.1"/><circle cx="225.84" cy="279.02" r="3.1"/><circle cx="226.17" cy="280.13" r="3.1"/><circle cx="226.5" cy="280.66" r="3.1"/><circle cx="226.83" cy="280.23" r="3.1"/><circle cx="227.16" cy="281.36" r="3.1"/><circle cx="227.49" cy="282.72" r="3.1"/><circle cx="227.81" cy="281.97" r="3.1"/><circle cx="228.14" cy="279.9" r="3.1"/><circle cx="228.47" cy="279.33" r="3.1"/><circle cx="228.8" cy="279.39" r="3.1"/><circle cx="229.13" cy="278.95" r="3.1"/><circle cx="229.46" cy="280.18" r="3.1"/><circle cx="229.79" cy="280.62" r="3.1"/><circle cx="230.12" cy="280.29" r="3.1"/><circle cx="230.45" cy="280.27" r="3.1"/><circle cx="230.78" cy="280.19" r="3.1"/><circle cx="231.11" cy="279.79" r="3.1"/><circle cx="231.44" cy="278.99" r="3.1"/><circle cx="231.77" cy="282.04" r="3.1"/><circle cx="232.09" cy="281.16" r="3.1"/><circle cx="232.42" cy="278.68" r="3.1"/><circle cx="232.75" cy="278.65" r="3.1"/><circle cx="233.08" cy="279.01" r="3.1"/><circle cx="233.41" cy="279.76" r="3.1"/><circle cx="233.74" cy="281.26" r="3.1"/><circle cx="234.07" cy="280.92" r="3.1"/><circle cx="234.4" cy="280.95" r="3.1"/><circle cx="234.73" cy="280.95" r="3.1"/><circle cx="235.06" cy="280.94" r="3.1"/><circle cx="235.39" cy="280.45" r="3.1"/><circle cx="235.72" cy="280.06" r="3.1"/><circle cx="236.04" cy="279.32" r="3.1"/><circle cx="236.37" cy="277.26" r="3.1"/><circle cx="236.7" cy="279.25" r="3.1"/><circle cx="237.03" cy="281.63" r="3.1"/><circle cx="237.36" cy="278.68" r="3.1"/><circle cx="237.69" cy="278.54" r="3.1"/><circle cx="238.02" cy="280.57" r="3.1"/></g>
<path d="M23.7 197.65H255.1" fill="none" stroke="#808080" stroke-width="1.4"/>
<path d="M254.4 197.65V357.95" fill="none" stroke="#8a8a8a" stroke-width="1.4"/>
<path d="M24.3 197.65V357.45H254.4" fill="none" stroke="#555555" stroke-width="1.1" stroke-linecap="square"/>
<path d="M40.5 357.45v-2.6M73.42 357.45v-2.6M106.34 357.45v-2.6M139.26 357.45v-2.6M172.18 357.45v-2.6M205.1 357.45v-2.6M238.02 357.45v-2.6M56.96 357.45v-1.4M89.88 357.45v-1.4M122.8 357.45v-1.4M155.72 357.45v-1.4M188.64 357.45v-1.4M221.56 357.45v-1.4" fill="none" stroke="#555555" stroke-width="0.8"/>
<text x="40.6" y="368.4" text-anchor="middle" font-size="10.1">870</text>
<text x="73.52" y="368.4" text-anchor="middle" font-size="10.1">880</text>
<text x="106.44" y="368.4" text-anchor="middle" font-size="10.1">890</text>
<text x="139.36" y="368.4" text-anchor="middle" font-size="10.1">900</text>
<text x="172.28" y="368.4" text-anchor="middle" font-size="10.1">910</text>
<text x="205.2" y="368.4" text-anchor="middle" font-size="10.1">920</text>
<text x="238.12" y="368.4" text-anchor="middle" font-size="10.1">930</text>
<text x="139.1" y="384.2" text-anchor="middle" font-size="10.1">Binding energy (eV)</text>
<text x="17.7" y="278" text-anchor="middle" font-size="10.1" transform="rotate(-90 17.7 278)">Intensity (arb. units)</text>
<text x="5.8" y="206.2" text-anchor="start" font-size="10.2">(c)</text>
<g fill="url(#gB)"><circle cx="198.8" cy="213" r="2.9"/></g>
<text x="209.4" y="216.6" text-anchor="start" font-size="10.1">Ce 3d</text>
<g fill="url(#gM)"><circle cx="322.4" cy="330.75" r="2.8"/><circle cx="323.53" cy="329.85" r="2.8"/><circle cx="324.65" cy="333.38" r="2.8"/><circle cx="325.78" cy="331.85" r="2.8"/><circle cx="326.9" cy="332.15" r="2.8"/><circle cx="328.03" cy="329.97" r="2.8"/><circle cx="329.15" cy="331.84" r="2.8"/><circle cx="330.28" cy="331.71" r="2.8"/><circle cx="331.4" cy="332.47" r="2.8"/><circle cx="332.53" cy="333.18" r="2.8"/><circle cx="333.65" cy="333.22" r="2.8"/><circle cx="334.78" cy="331.68" r="2.8"/><circle cx="335.91" cy="332.65" r="2.8"/><circle cx="337.03" cy="329.62" r="2.8"/><circle cx="338.16" cy="332.75" r="2.8"/><circle cx="339.28" cy="332.91" r="2.8"/><circle cx="340.41" cy="331.17" r="2.8"/><circle cx="341.53" cy="330.63" r="2.8"/><circle cx="342.66" cy="331.98" r="2.8"/><circle cx="343.78" cy="330.16" r="2.8"/><circle cx="344.91" cy="332.96" r="2.8"/><circle cx="346.04" cy="333.03" r="2.8"/><circle cx="347.16" cy="331.05" r="2.8"/><circle cx="348.29" cy="332.87" r="2.8"/><circle cx="349.41" cy="334.71" r="2.8"/><circle cx="350.54" cy="334.77" r="2.8"/><circle cx="351.66" cy="334.72" r="2.8"/><circle cx="352.79" cy="332.74" r="2.8"/><circle cx="353.91" cy="332.41" r="2.8"/><circle cx="355.04" cy="332.3" r="2.8"/><circle cx="356.16" cy="333.94" r="2.8"/><circle cx="357.29" cy="336.9" r="2.8"/><circle cx="358.42" cy="335.25" r="2.8"/><circle cx="359.54" cy="335.51" r="2.8"/><circle cx="360.67" cy="335.07" r="2.8"/><circle cx="361.79" cy="329.98" r="2.8"/><circle cx="362.92" cy="332.34" r="2.8"/><circle cx="364.04" cy="331.9" r="2.8"/><circle cx="365.17" cy="334.72" r="2.8"/><circle cx="366.29" cy="335.43" r="2.8"/><circle cx="367.42" cy="331.39" r="2.8"/><circle cx="368.55" cy="332.55" r="2.8"/><circle cx="369.67" cy="333.39" r="2.8"/><circle cx="370.8" cy="331.57" r="2.8"/><circle cx="371.92" cy="331.28" r="2.8"/><circle cx="373.05" cy="331.15" r="2.8"/><circle cx="374.17" cy="333.75" r="2.8"/><circle cx="375.3" cy="330.64" r="2.8"/><circle cx="376.42" cy="334.05" r="2.8"/><circle cx="377.55" cy="332.21" r="2.8"/><circle cx="378.67" cy="333.27" r="2.8"/><circle cx="379.8" cy="334.54" r="2.8"/><circle cx="380.93" cy="330.67" r="2.8"/><circle cx="382.05" cy="330.28" r="2.8"/><circle cx="383.18" cy="332.23" r="2.8"/><circle cx="384.3" cy="329.53" r="2.8"/><circle cx="385.43" cy="329.47" r="2.8"/><circle cx="386.55" cy="328.98" r="2.8"/><circle cx="387.68" cy="327.71" r="2.8"/><circle cx="388.8" cy="323.08" r="2.8"/><circle cx="389.93" cy="321.11" r="2.8"/><circle cx="391.06" cy="317.65" r="2.8"/><circle cx="392.18" cy="313.09" r="2.8"/><circle cx="393.31" cy="304.92" r="2.8"/><circle cx="394.43" cy="300.35" r="2.8"/><circle cx="395.56" cy="291.6" r="2.8"/><circle cx="396.68" cy="280.84" r="2.8"/><circle cx="397.81" cy="273.95" r="2.8"/><circle cx="398.93" cy="269.6" r="2.8"/><circle cx="400.06" cy="262.47" r="2.8"/><circle cx="401.18" cy="255.2" r="2.8"/><circle cx="402.31" cy="245.47" r="2.8"/><circle cx="403.44" cy="233.04" r="2.8"/><circle cx="404.56" cy="224.63" r="2.8"/><circle cx="405.69" cy="218.71" r="2.8"/><circle cx="406.81" cy="215.27" r="2.8"/><circle cx="407.94" cy="214.27" r="2.8"/><circle cx="409.06" cy="213.69" r="2.8"/><circle cx="410.19" cy="212.99" r="2.8"/><circle cx="411.31" cy="213.56" r="2.8"/><circle cx="412.44" cy="217.41" r="2.8"/><circle cx="413.57" cy="218.81" r="2.8"/><circle cx="414.69" cy="221.89" r="2.8"/><circle cx="415.82" cy="224.56" r="2.8"/><circle cx="416.94" cy="229.84" r="2.8"/><circle cx="418.07" cy="233.09" r="2.8"/><circle cx="419.19" cy="238.12" r="2.8"/><circle cx="420.32" cy="242.34" r="2.8"/><circle cx="421.44" cy="247.34" r="2.8"/><circle cx="422.57" cy="251.91" r="2.8"/><circle cx="423.69" cy="254.82" r="2.8"/><circle cx="424.82" cy="259.06" r="2.8"/><circle cx="425.95" cy="263.3" r="2.8"/><circle cx="427.07" cy="266.04" r="2.8"/><circle cx="428.2" cy="269.39" r="2.8"/><circle cx="429.32" cy="272.69" r="2.8"/><circle cx="430.45" cy="275.02" r="2.8"/><circle cx="431.57" cy="278.3" r="2.8"/><circle cx="432.7" cy="278.3" r="2.8"/><circle cx="433.82" cy="278.87" r="2.8"/><circle cx="434.95" cy="277.39" r="2.8"/><circle cx="436.08" cy="272.93" r="2.8"/><circle cx="437.2" cy="270.73" r="2.8"/><circle cx="438.33" cy="267.9" r="2.8"/><circle cx="439.45" cy="265.11" r="2.8"/><circle cx="440.58" cy="263.57" r="2.8"/><circle cx="441.7" cy="261.81" r="2.8"/><circle cx="442.83" cy="260.85" r="2.8"/><circle cx="443.95" cy="259.59" r="2.8"/><circle cx="445.08" cy="256.73" r="2.8"/><circle cx="446.2" cy="255.93" r="2.8"/><circle cx="447.33" cy="255.34" r="2.8"/><circle cx="448.46" cy="254.57" r="2.8"/><circle cx="449.58" cy="250.91" r="2.8"/><circle cx="450.71" cy="252.51" r="2.8"/><circle cx="451.83" cy="250.64" r="2.8"/><circle cx="452.96" cy="250.99" r="2.8"/><circle cx="454.08" cy="249.08" r="2.8"/><circle cx="455.21" cy="248.81" r="2.8"/><circle cx="456.33" cy="249.92" r="2.8"/><circle cx="457.46" cy="251.52" r="2.8"/><circle cx="458.59" cy="252.35" r="2.8"/><circle cx="459.71" cy="252.75" r="2.8"/><circle cx="460.84" cy="257.39" r="2.8"/><circle cx="461.96" cy="258.8" r="2.8"/><circle cx="463.09" cy="262.61" r="2.8"/><circle cx="464.21" cy="266.25" r="2.8"/><circle cx="465.34" cy="270.22" r="2.8"/><circle cx="466.46" cy="275.45" r="2.8"/><circle cx="467.59" cy="280.49" r="2.8"/><circle cx="468.71" cy="285.8" r="2.8"/><circle cx="469.84" cy="291.41" r="2.8"/><circle cx="470.97" cy="296.21" r="2.8"/><circle cx="472.09" cy="299.86" r="2.8"/><circle cx="473.22" cy="305.03" r="2.8"/><circle cx="474.34" cy="309.73" r="2.8"/><circle cx="475.47" cy="312.86" r="2.8"/><circle cx="476.59" cy="314.61" r="2.8"/><circle cx="477.72" cy="316.81" r="2.8"/><circle cx="478.84" cy="318.59" r="2.8"/><circle cx="479.97" cy="320.33" r="2.8"/><circle cx="481.1" cy="321.8" r="2.8"/><circle cx="482.22" cy="321.46" r="2.8"/><circle cx="483.35" cy="322.54" r="2.8"/><circle cx="484.47" cy="324.77" r="2.8"/><circle cx="485.6" cy="325.77" r="2.8"/><circle cx="486.72" cy="326.61" r="2.8"/><circle cx="487.85" cy="324.64" r="2.8"/><circle cx="488.97" cy="326.74" r="2.8"/><circle cx="490.1" cy="325.07" r="2.8"/><circle cx="491.22" cy="328.28" r="2.8"/><circle cx="492.35" cy="328.19" r="2.8"/><circle cx="493.48" cy="328.47" r="2.8"/><circle cx="494.6" cy="328.49" r="2.8"/><circle cx="495.73" cy="329.44" r="2.8"/><circle cx="496.85" cy="327.97" r="2.8"/><circle cx="497.98" cy="328.38" r="2.8"/><circle cx="499.1" cy="327.44" r="2.8"/><circle cx="500.23" cy="326.44" r="2.8"/><circle cx="501.35" cy="325.42" r="2.8"/><circle cx="502.48" cy="324.48" r="2.8"/></g>
<path d="M299.5 197.65H520" fill="none" stroke="#808080" stroke-width="1.4"/>
<path d="M519.1 197.65V354.95" fill="none" stroke="#999999" stroke-width="1.8"/>
<path d="M300.1 197.65V354.45H519.1" fill="none" stroke="#555555" stroke-width="1.1" stroke-linecap="square"/>
<path d="M299.89 354.45v-2.6M322.4 354.45v-2.6M344.91 354.45v-2.6M367.42 354.45v-2.6M389.93 354.45v-2.6M412.44 354.45v-2.6M434.95 354.45v-2.6M457.46 354.45v-2.6M479.97 354.45v-2.6M502.48 354.45v-2.6M311.14 354.45v-1.4M333.65 354.45v-1.4M356.16 354.45v-1.4M378.67 354.45v-1.4M401.19 354.45v-1.4M423.69 354.45v-1.4M446.2 354.45v-1.4M468.71 354.45v-1.4M491.23 354.45v-1.4M513.74 354.45v-1.4" fill="none" stroke="#555555" stroke-width="0.8"/>
<text x="299.99" y="365.8" text-anchor="middle" font-size="10.1">178</text>
<text x="322.5" y="365.8" text-anchor="middle" font-size="10.1">180</text>
<text x="345.01" y="365.8" text-anchor="middle" font-size="10.1">182</text>
<text x="367.52" y="365.8" text-anchor="middle" font-size="10.1">184</text>
<text x="390.03" y="365.8" text-anchor="middle" font-size="10.1">186</text>
<text x="412.54" y="365.8" text-anchor="middle" font-size="10.1">188</text>
<text x="435.05" y="365.8" text-anchor="middle" font-size="10.1">190</text>
<text x="457.56" y="365.8" text-anchor="middle" font-size="10.1">192</text>
<text x="480.07" y="365.8" text-anchor="middle" font-size="10.1">194</text>
<text x="502.58" y="365.8" text-anchor="middle" font-size="10.1">196</text>
<text x="409.2" y="382" text-anchor="middle" font-size="10.1">Binding energy (eV)</text>
<text x="293.9" y="276" text-anchor="middle" font-size="10.1" transform="rotate(-90 293.9 276)">Intensity (arb. units)</text>
<text x="278" y="206.2" text-anchor="start" font-size="10.2">(d)</text>
<g fill="url(#gM)"><circle cx="467" cy="213" r="2.8"/></g>
<text x="477.4" y="216.6" text-anchor="start" font-size="10.1">B 1s</text>
</svg>
</body></html>
